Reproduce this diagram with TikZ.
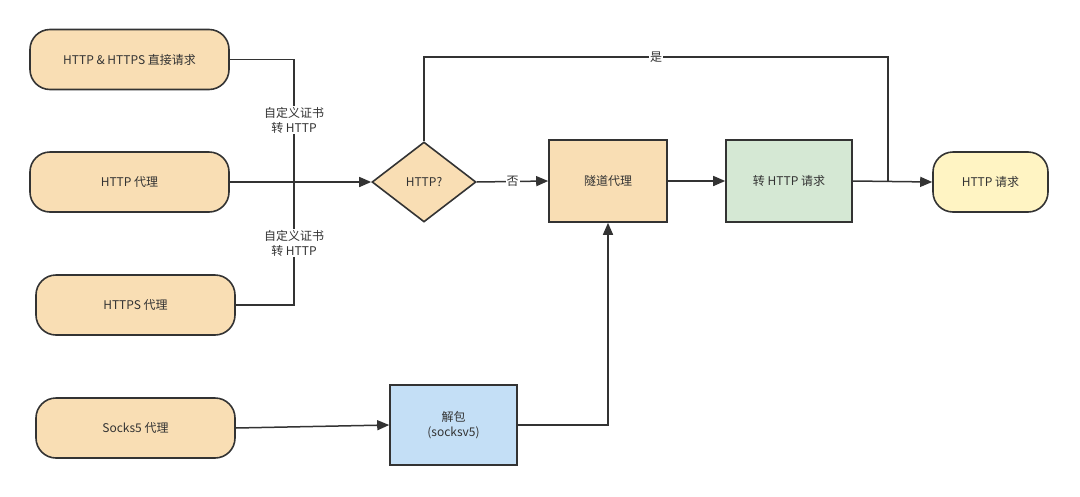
\documentclass[tikz,border=0pt]{standalone}
\usepackage{fontspec}
\setmainfont{Noto Sans CJK SC}
\usetikzlibrary{shapes.geometric,arrows.meta}
\definecolor{org}{HTML}{F9DEB4}
\definecolor{grn}{HTML}{D5E8D4}
\definecolor{blu}{HTML}{C4DFF6}
\definecolor{yel}{HTML}{FFF4C3}
\definecolor{ln}{HTML}{333333}
\begin{document}
\begin{tikzpicture}[x=1pt,y=-1pt,
  every node/.style={font=\fontsize{12}{15}\selectfont, text=ln},
  term/.style={draw=ln, line width=1.6pt, rounded corners=20pt, minimum width=199pt, minimum height=60pt, fill=org, inner sep=0},
  box/.style={draw=ln, line width=1.6pt, minimum width=118pt, minimum height=82pt, inner sep=0, align=center},
  con/.style={draw=ln, line width=1.5pt},
  arr/.style={con, -{Triangle[length=12pt,width=10pt]}},
  lbl/.style={fill=white, inner sep=1pt, align=center}]
\useasboundingbox (0,0) rectangle (1080,496);
\node[term] (a) at (129.5,59.5) {HTTP \& HTTPS 直接请求};
\node[term] (b) at (129.5,182) {HTTP 代理};
\node[term] (c) at (135.5,305) {HTTPS 代理};
\node[term] (d) at (135.5,428) {Socks5 代理};
\node[diamond, draw=ln, line width=1.6pt, fill=org, minimum width=104pt, minimum height=80pt, inner sep=0, aspect=1.3] (q) at (424,182) {HTTP?};
\node[box, fill=org] (t) at (608,181) {隧道代理};
\node[box, fill=grn, minimum width=126pt] (g) at (789,181) {转 HTTP 请求};
\node[term, fill=yel, minimum width=115pt] (r) at (990.5,182) {HTTP 请求};
\node[box, fill=blu, minimum width=127pt, minimum height=80pt] (j) at (453.5,425) {解包\\(socksv5)};
\coordinate (v1) at (294,59.5);
\coordinate (v2) at (294,305);
\coordinate (m) at (888,182);
\draw[con] (a.east) -- (v1) -- (v2) -- (c.east);
\node[lbl] at (294,120) {自定义证书\\转 HTTP};
\node[lbl] at (294,243) {自定义证书\\转 HTTP};
\draw[arr] (b.east) -- (q.west);
\draw[arr] (q.east) -- node[lbl] {否} (t.west);
\draw[arr] (t.east) -- (g.west);
\draw[arr] (g.east) -- (r.west);
\draw[con] (q.north) |- (424,57) -- node[lbl] {是} (888,57) -- (m);
\draw[arr] (j.east) -| (t.south);
\draw[arr] (d.east) -- (j.west);
\end{tikzpicture}
\end{document}
